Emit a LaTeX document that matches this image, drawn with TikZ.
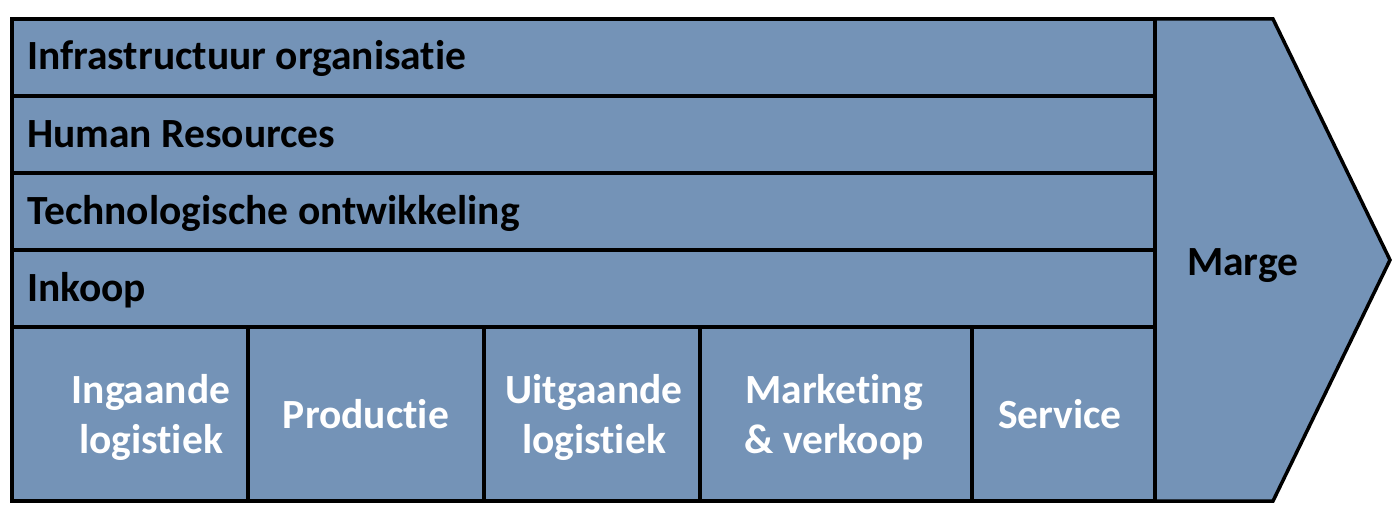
\documentclass[tikz,border=0pt]{standalone}
\usepackage{fontspec}
\setmainfont[Ligatures=NoCommon]{Carlito}
\definecolor{vcfill}{RGB}{116,147,183}
\begin{document}
\begin{tikzpicture}[x=1pt,y=-1pt,
  cell/.style={draw=black,fill=vcfill,line width=3.5pt,rectangle,inner sep=0pt,outer sep=0pt,anchor=north west},
  darktxt/.style={font=\fontsize{41.5}{50}\selectfont\bfseries,text=black,inner sep=0pt},
  lighttxt/.style={font=\fontsize{41.5}{50}\selectfont\bfseries,text=white,inner sep=0pt,align=center}]
\useasboundingbox (0,0) rectangle (1393,519);
% margin arrow
\draw[fill=vcfill,line width=3.5pt,line join=miter] (1155,19) -- (1273,19) -- (1390,260) -- (1273,501) -- (1155,501) -- cycle;
% support activities
\node[cell,minimum width=1143pt,minimum height=77pt] (infra) at (12,19) {};
\node[cell,minimum width=1143pt,minimum height=77pt] (hr) at (12,96) {};
\node[cell,minimum width=1143pt,minimum height=77pt] (tech) at (12,173) {};
\node[cell,minimum width=1143pt,minimum height=77pt] (inkoop) at (12,250) {};
% primary activities
\node[cell,minimum width=236pt,minimum height=174pt] (ingaande) at (12,327) {};
\node[cell,minimum width=236pt,minimum height=174pt] (productie) at (248,327) {};
\node[cell,minimum width=216pt,minimum height=174pt] (uitgaande) at (484,327) {};
\node[cell,minimum width=272pt,minimum height=174pt] (marketing) at (700,327) {};
\node[cell,minimum width=183pt,minimum height=174pt] (service) at (972,327) {};
% labels
\node[darktxt,anchor=base west] (tinfra) at (27,70) {Infrastructuur organisatie};
\node[darktxt,anchor=base west] (thr) at (27,147) {Human Resources};
\node[darktxt,anchor=base west] (ttech) at (27,224) {Technologische ontwikkeling};
\node[darktxt,anchor=base west] (tinkoop) at (27,301) {Inkoop};
\node[darktxt,anchor=base west] (tmarge) at (1187,275) {Marge};
\node[lighttxt] (tingaande) at (151,417) {Ingaande\\logistiek};
\node[lighttxt,anchor=base] (tproductie) at (366,428) {Productie};
\node[lighttxt] (tuitgaande) at (594,417) {Uitgaande\\logistiek};
\node[lighttxt] (tmarketing) at (834,417) {Marketing\\\&~verkoop};
\node[lighttxt,anchor=base] (tservice) at (1060,428) {Service};
\end{tikzpicture}
\end{document}
